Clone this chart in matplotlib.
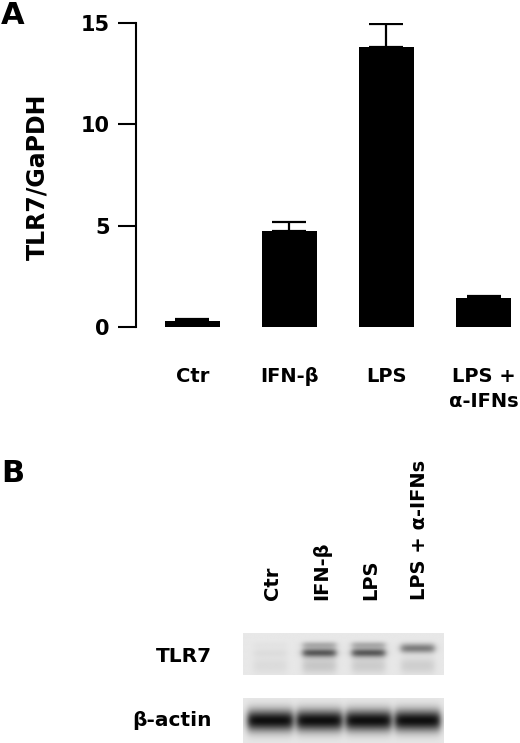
import numpy as np
import matplotlib
matplotlib.use("Agg")
import matplotlib.pyplot as plt
import matplotlib.transforms as mtransforms

# panel A data
groups = ["Ctr", "IFN-\u03b2", "LPS", "LPS +\n\u03b1-IFNs"]
ratio = [0.3, 4.75, 13.8, 1.45]
ratio_err = [0.1, 0.45, 1.15, 0.1]

# panel B data (relative band darkness per lane)
lanes = ["Ctr", "IFN-\u03b2", "LPS", "LPS + \u03b1-IFNs"]
tlr7_main = [0.04, 0.55, 0.55, 0.40]
tlr7_upper = [0.02, 0.22, 0.22, 0.05]
tlr7_smear = [0.05, 0.13, 0.11, 0.10]
actin_band = [0.85, 0.85, 0.85, 0.85]

W, H = 520, 743
plt.rcParams["font.family"] = ["DejaVu Sans"]
plt.rcParams["font.weight"] = "bold"

fig = plt.figure(figsize=(W / 100, H / 100), dpi=100)


def box(x0, y0, x1, y1):
    # pixel box -> figure fraction
    return [x0 / W, 1 - y1 / H, (x1 - x0) / W, (y1 - y0) / H]


# ---- A: bar chart ----
ax = fig.add_axes(box(136, 23, 520, 327))
x = np.arange(len(groups))
ax.bar(x, ratio, width=0.567, color="black",
       yerr=[np.zeros(len(ratio)), ratio_err],
       error_kw=dict(ecolor="black", elinewidth=1.6, capsize=12, capthick=1.6))
ax.set_xlim(-0.58, 3.376)
ax.set_ylim(0, 15)
ax.set_yticks([0, 5, 10, 15])
ax.set_xticks(x)
ax.set_xticklabels(groups, fontsize=14, fontweight="bold", linespacing=1.35)
ax.tick_params(axis="x", length=0, pad=29)
ax.tick_params(axis="y", length=13, width=1.5, pad=6, labelsize=15)
for s in ["top", "right", "bottom"]:
    ax.spines[s].set_visible(False)
ax.spines["left"].set_linewidth(1.5)
ax.spines["left"].set_bounds(0, 15)

fig.text(37 / W, 1 - 177 / H, "TLR7/GaPDH", rotation=90, ha="center",
         va="center", fontsize=17, fontweight="bold")
fig.text(1 / W, 1 - 1 / H, "A", ha="left", va="top", fontsize=22,
         fontweight="bold")
fig.text(1 / W, 1 - 473 / H, "B", ha="left", va="center", fontsize=22,
         fontweight="bold")

# ---- B: western blot ----
xl = (-0.55, 3.53)


def blot(ax_b, rows, halfw, bg):
    xs = np.linspace(xl[0], xl[1], 400)
    ys = np.linspace(0, 1, 120)
    X, Y = np.meshgrid(xs, ys)
    img = np.full(X.shape, bg)
    for i in range(len(lanes)):
        dx = np.abs(X - i)
        lane = 1 / (1 + np.exp((dx - halfw) / 0.04))
        for amp, yc, sy in rows(i):
            img += amp * lane * np.exp(-((Y - yc) / sy) ** 2)
    img = np.clip(img, 0, 1)
    ax_b.imshow(img, cmap="gray_r", vmin=0, vmax=1, aspect="auto",
                extent=(xl[0], xl[1], 1, 0), interpolation="bilinear")
    ax_b.set_xlim(*xl)
    ax_b.set_ylim(1, 0)
    ax_b.axis("off")


ax_t = fig.add_axes(box(243, 633, 443, 675))
blot(ax_t, lambda i: [(tlr7_main[i], 0.47 if i < 3 else 0.37, 0.11),
                      (tlr7_upper[i], 0.28, 0.08),
                      (tlr7_smear[i], 0.78, 0.2)], 0.34, 0.09)

ax_a = fig.add_axes(box(243, 698, 443, 743))
blot(ax_a, lambda i: [(actin_band[i], 0.5, 0.24)], 0.46, 0.09)

trans = mtransforms.blended_transform_factory(ax_t.transData, fig.transFigure)
for i, lab in enumerate(lanes):
    ax_t.text(i + 0.05, 1 - 600 / H, lab, rotation=90, ha="center",
              va="bottom", fontsize=14, fontweight="bold", transform=trans,
              clip_on=False)

fig.text(212 / W, 1 - 657 / H, "TLR7", ha="right", va="center",
         fontsize=14.5, fontweight="bold")
fig.text(212 / W, 1 - 720 / H, "\u03b2-actin", ha="right", va="center",
         fontsize=14.5, fontweight="bold")

fig.savefig("out.png", dpi=100)
